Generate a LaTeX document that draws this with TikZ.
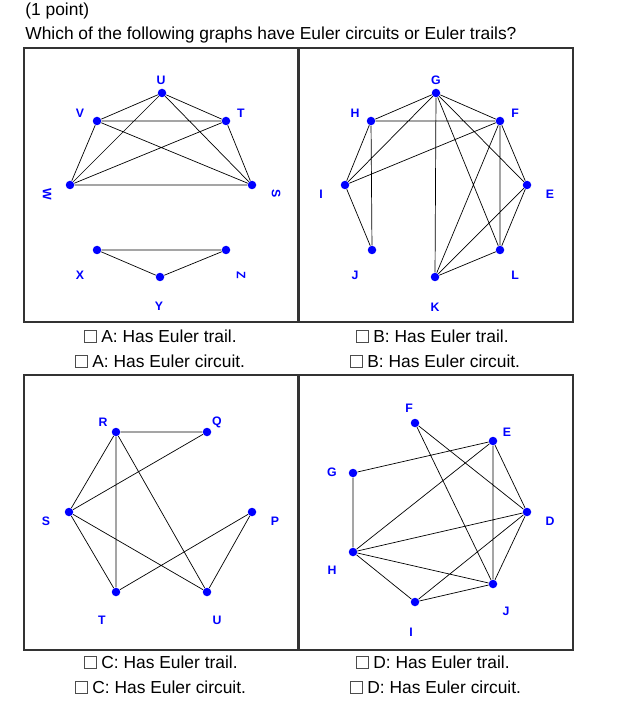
\documentclass[tikz,border=0pt]{standalone}
\usepackage{fontspec}
\setmainfont{Liberation Sans}
\usepackage{tikz}

\begin{document}
\begin{tikzpicture}[x=0.02cm,y=-0.02cm,
  dot/.style={circle,fill=blue,inner sep=0pt,minimum size=0.17cm},
  lbl/.style={text=blue,font=\fontsize{7}{8}\selectfont\bfseries},
  txt/.style={anchor=west,inner sep=0pt,font=\fontsize{9.9}{11}\selectfont},
  chk/.style={draw=black!70,inner sep=0pt,minimum size=0.24cm,anchor=west},
  panel/.style={draw=black!80,line width=0.8pt}]
\useasboundingbox (0,0) rectangle (637,722);
\node[txt] (pt) at (25,11) {(1 point)};
\node[txt] (qu) at (25,35) {Which of the following graphs have Euler circuits or Euler trails?};

\draw[panel] (24,48) rectangle (299,322);
\draw[panel] (298,48) rectangle (573,322);
\draw[panel] (24,375) rectangle (299,650);
\draw[panel] (298,375) rectangle (573,650);

% graph A
\node[dot] (aU) at (162,93) {};
\node[dot] (aV) at (97,121) {};
\node[dot] (aT) at (226,121) {};
\node[dot] (aW) at (70,185) {};
\node[dot] (aS) at (252,185) {};
\node[dot] (aX) at (97,250) {};
\node[dot] (aY) at (160,277) {};
\node[dot] (aZ) at (226,250) {};
\draw (aU) -- (aV) (aU) -- (aT) (aU) -- (aW) (aU) -- (aS) (aV) -- (aT) (aV) -- (aW)
  (aV) -- (aS) (aT) -- (aW) (aT) -- (aS) (aW) -- (aS) (aX) -- (aZ) (aX) -- (aY) (aY) -- (aZ);
\node[lbl] (laU) at (161,80) {U};
\node[lbl] (laV) at (80,113) {V};
\node[lbl] (laT) at (241,113) {T};
\node[lbl,rotate=-90] (laW) at (47,194) {W};
\node[lbl,rotate=-90] (laS) at (276,194) {S};
\node[lbl] (laX) at (80,275) {X};
\node[lbl] (laY) at (159,306) {Y};
\node[lbl,rotate=-90] (laZ) at (241,275) {Z};

% graph B
\node[dot] (bG) at (436,93) {};
\node[dot] (bH) at (371,121) {};
\node[dot] (bF) at (500,121) {};
\node[dot] (bI) at (345,185) {};
\node[dot] (bE) at (527,185) {};
\node[dot] (bJ) at (372,250) {};
\node[dot] (bL) at (500,250) {};
\node[dot] (bK) at (435,277) {};
\draw (bG) -- (bH) (bG) -- (bF) (bG) -- (bI) (bG) -- (bK) (bG) -- (bL) (bG) -- (bE)
  (bH) -- (bF) (bH) -- (bI) (bH) -- (bJ) (bF) -- (bI) (bF) -- (bK) (bF) -- (bL)
  (bF) -- (bE) (bI) -- (bJ) (bE) -- (bL) (bE) -- (bK) (bL) -- (bK);
\node[lbl] (lbG) at (436,80) {G};
\node[lbl] (lbH) at (355,113) {H};
\node[lbl] (lbF) at (515,113) {F};
\node[lbl] (lbI) at (321,194) {I};
\node[lbl] (lbE) at (550,194) {E};
\node[lbl] (lbJ) at (355,275) {J};
\node[lbl] (lbL) at (515,275) {L};
\node[lbl] (lbK) at (435,307) {K};

% graph C
\node[dot] (cR) at (116,432) {};
\node[dot] (cQ) at (207,432) {};
\node[dot] (cS) at (69,512) {};
\node[dot] (cP) at (252,512) {};
\node[dot] (cT) at (116,592) {};
\node[dot] (cU) at (207,592) {};
\draw (cR) -- (cQ) (cR) -- (cS) (cR) -- (cT) (cR) -- (cU) (cQ) -- (cS) (cS) -- (cT)
  (cS) -- (cU) (cT) -- (cP) (cP) -- (cU);
\node[lbl] (lcR) at (103,422) {R};
\node[lbl] (lcQ) at (217,422) {Q};
\node[lbl] (lcS) at (46,521) {S};
\node[lbl] (lcP) at (275,521) {P};
\node[lbl] (lcT) at (102,620) {T};
\node[lbl] (lcU) at (217,620) {U};

% graph D
\node[dot] (dF) at (415,423) {};
\node[dot] (dE) at (493,441) {};
\node[dot] (dG) at (353,473) {};
\node[dot] (dD) at (527,512) {};
\node[dot] (dH) at (353,552) {};
\node[dot] (dJ) at (493,584) {};
\node[dot] (dI) at (415,602) {};
\draw (dF) -- (dD) (dF) -- (dJ) (dE) -- (dG) (dE) -- (dH) (dE) -- (dJ) (dE) -- (dD)
  (dG) -- (dH) (dH) -- (dD) (dH) -- (dJ) (dH) -- (dI) (dD) -- (dJ) (dD) -- (dI) (dI) -- (dJ);
\node[lbl] (ldF) at (409,408) {F};
\node[lbl] (ldE) at (507,432) {E};
\node[lbl] (ldG) at (332,472) {G};
\node[lbl] (ldD) at (550,521) {D};
\node[lbl] (ldH) at (332,570) {H};
\node[lbl] (ldJ) at (506,611) {J};
\node[lbl] (ldI) at (411,632) {I};

% answers
\node[chk] (ka1) at (84,336) {};
\node[txt] (ta1) at (101,336) {A: Has Euler trail.};
\node[chk] (ka2) at (75,361) {};
\node[txt] (ta2) at (92,361) {A: Has Euler circuit.};
\node[chk] (kb1) at (356,336) {};
\node[txt] (tb1) at (373,336) {B: Has Euler trail.};
\node[chk] (kb2) at (350,361) {};
\node[txt] (tb2) at (367,361) {B: Has Euler circuit.};
\node[chk] (kc1) at (84,662) {};
\node[txt] (tc1) at (101,662) {C: Has Euler trail.};
\node[chk] (kc2) at (75,687) {};
\node[txt] (tc2) at (92,687) {C: Has Euler circuit.};
\node[chk] (kd1) at (356,662) {};
\node[txt] (td1) at (373,662) {D: Has Euler trail.};
\node[chk] (kd2) at (350,687) {};
\node[txt] (td2) at (367,687) {D: Has Euler circuit.};
\end{tikzpicture}
\end{document}
